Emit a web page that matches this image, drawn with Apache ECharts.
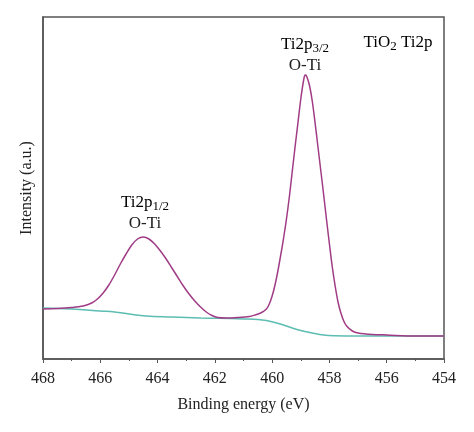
<!DOCTYPE html>
<html>
<head>
<meta charset="utf-8">
<script src="https://cdn.jsdelivr.net/npm/echarts@6/dist/echarts.min.js"></script>
<style>
    html, body { margin: 0; padding: 0; background: #fff; }
    #chart { width: 474px; height: 432px; }
</style>
</head>
<body>
<div id="chart"></div>
<script>
// Ti2p spectrum, values (arbitrary units)
var energy = [468, 467.5, 467, 466.6, 466.3, 466.1, 465.9, 465.7, 465.5, 465.3, 465.1, 464.9, 464.7, 464.5,
    464.3, 464.1, 463.9, 463.7, 463.5, 463.3, 463.1, 462.9, 462.7, 462.5, 462.3, 462.1, 461.9, 461.6,
    461.2, 460.8, 460.6, 460.4, 460.2, 460.1, 460.0, 459.9, 459.8, 459.7, 459.6, 459.5, 459.4, 459.3,
    459.2, 459.1, 459.0, 458.9, 458.85, 458.8, 458.7, 458.6, 458.5, 458.4, 458.3, 458.2, 458.1, 458.0,
    457.9, 457.8, 457.7, 457.6, 457.5, 457.4, 457.2, 457.0, 456.5, 456, 455, 454];
var intensity = [50, 50.5, 51.5, 53, 56, 60, 66, 74, 84, 95, 105, 114, 120, 122,
    120, 115, 108, 100, 91, 82, 73, 65, 58, 52, 47, 43.5, 41.5, 41,
    41.5, 42.5, 44, 46, 50, 55, 63, 74, 88, 104, 121, 140, 162, 187,
    212, 236, 260, 279, 284, 283, 274, 258, 236, 212, 188, 164, 139, 115,
    92, 73, 57, 46, 38, 33, 28, 26, 24.5, 24, 23, 23];

// fitted background
var bgEnergy = [468, 467, 466, 465.5, 465, 464.4, 463.5, 462.5, 461.9, 461, 460.5, 460.2, 459.9, 459.6,
    459.3, 459, 458.6, 458.2, 457.8, 457, 456, 454];
var bgIntensity = [51, 50, 48, 47, 45, 43, 42, 41, 40.7, 40, 39.5, 38.5, 36.5, 34,
    31, 28.5, 26, 24, 23.3, 23, 23, 23];

var xTicks = [468, 466, 464, 462, 460, 458, 456, 454];

function pairs(xs, ys) {
    return xs.map(function (x, i) { return [x, ys[i]]; });
}

var serif = '"Liberation Serif", "DejaVu Serif", serif';
var subRich = {
    n: { fontFamily: serif, fontSize: 17, color: '#222' },
    s: { fontFamily: serif, fontSize: 13, color: '#222', padding: [7, 0, 0, 0] }
};

var myChart = echarts.init(document.getElementById('chart'));

myChart.setOption({
    animation: false,
    grid: {
        left: 43, right: 30, top: 17, bottom: 73,
        show: true, borderColor: '#555', borderWidth: 1.5
    },
    xAxis: {
        type: 'value',
        inverse: true,
        min: 454, max: 468, interval: 2,
        axisLine: { lineStyle: { color: '#555', width: 1.5 } },
        axisTick: { show: true, length: 4, lineStyle: { color: '#555' } },
        minorTick: { show: true, splitNumber: 2, length: 2, lineStyle: { color: '#555' } },
        splitLine: { show: false },
        axisLabel: {
            fontFamily: serif, fontSize: 16, color: '#222', margin: 12,
            formatter: function (v) { return xTicks.indexOf(v) >= 0 ? String(v) : ''; }
        },
        name: 'Binding energy (eV)',
        nameLocation: 'middle',
        nameGap: 38,
        nameTextStyle: { fontFamily: serif, fontSize: 16, color: '#222' }
    },
    yAxis: {
        type: 'value',
        min: 0, max: 342,
        axisLine: { show: true, lineStyle: { color: '#555', width: 1.5 } },
        axisTick: { show: false },
        axisLabel: { show: false },
        splitLine: { show: false },
        name: 'Intensity (a.u.)',
        nameLocation: 'middle',
        nameGap: 8,
        nameTextStyle: { fontFamily: serif, fontSize: 16, color: '#222' }
    },
    series: [
        {
            type: 'line',
            data: pairs(bgEnergy, bgIntensity),
            smooth: 0.4,
            symbol: 'none',
            lineStyle: { color: '#5cbdb2', width: 1.5 }
        },
        {
            type: 'line',
            data: pairs(energy, intensity),
            smooth: 0.3,
            symbol: 'none',
            lineStyle: { color: '#a03c86', width: 1.5 }
        }
    ],
    graphic: [
        {
            type: 'text', x: 305, y: 35,
            style: { text: '{n|Ti2p}{s|3/2}', rich: subRich, textAlign: 'center' }
        },
        {
            type: 'text', x: 305, y: 57,
            style: { text: 'O-Ti', fontFamily: serif, fontSize: 17, fill: '#222', textAlign: 'center' }
        },
        {
            type: 'text', x: 145, y: 193,
            style: { text: '{n|Ti2p}{s|1/2}', rich: subRich, textAlign: 'center' }
        },
        {
            type: 'text', x: 145, y: 215,
            style: { text: 'O-Ti', fontFamily: serif, fontSize: 17, fill: '#222', textAlign: 'center' }
        },
        {
            type: 'text', x: 398, y: 33,
            style: { text: '{n|TiO}{s|2}{n| Ti2p}', rich: subRich, textAlign: 'center' }
        }
    ]
});
</script>
</body>
</html>
